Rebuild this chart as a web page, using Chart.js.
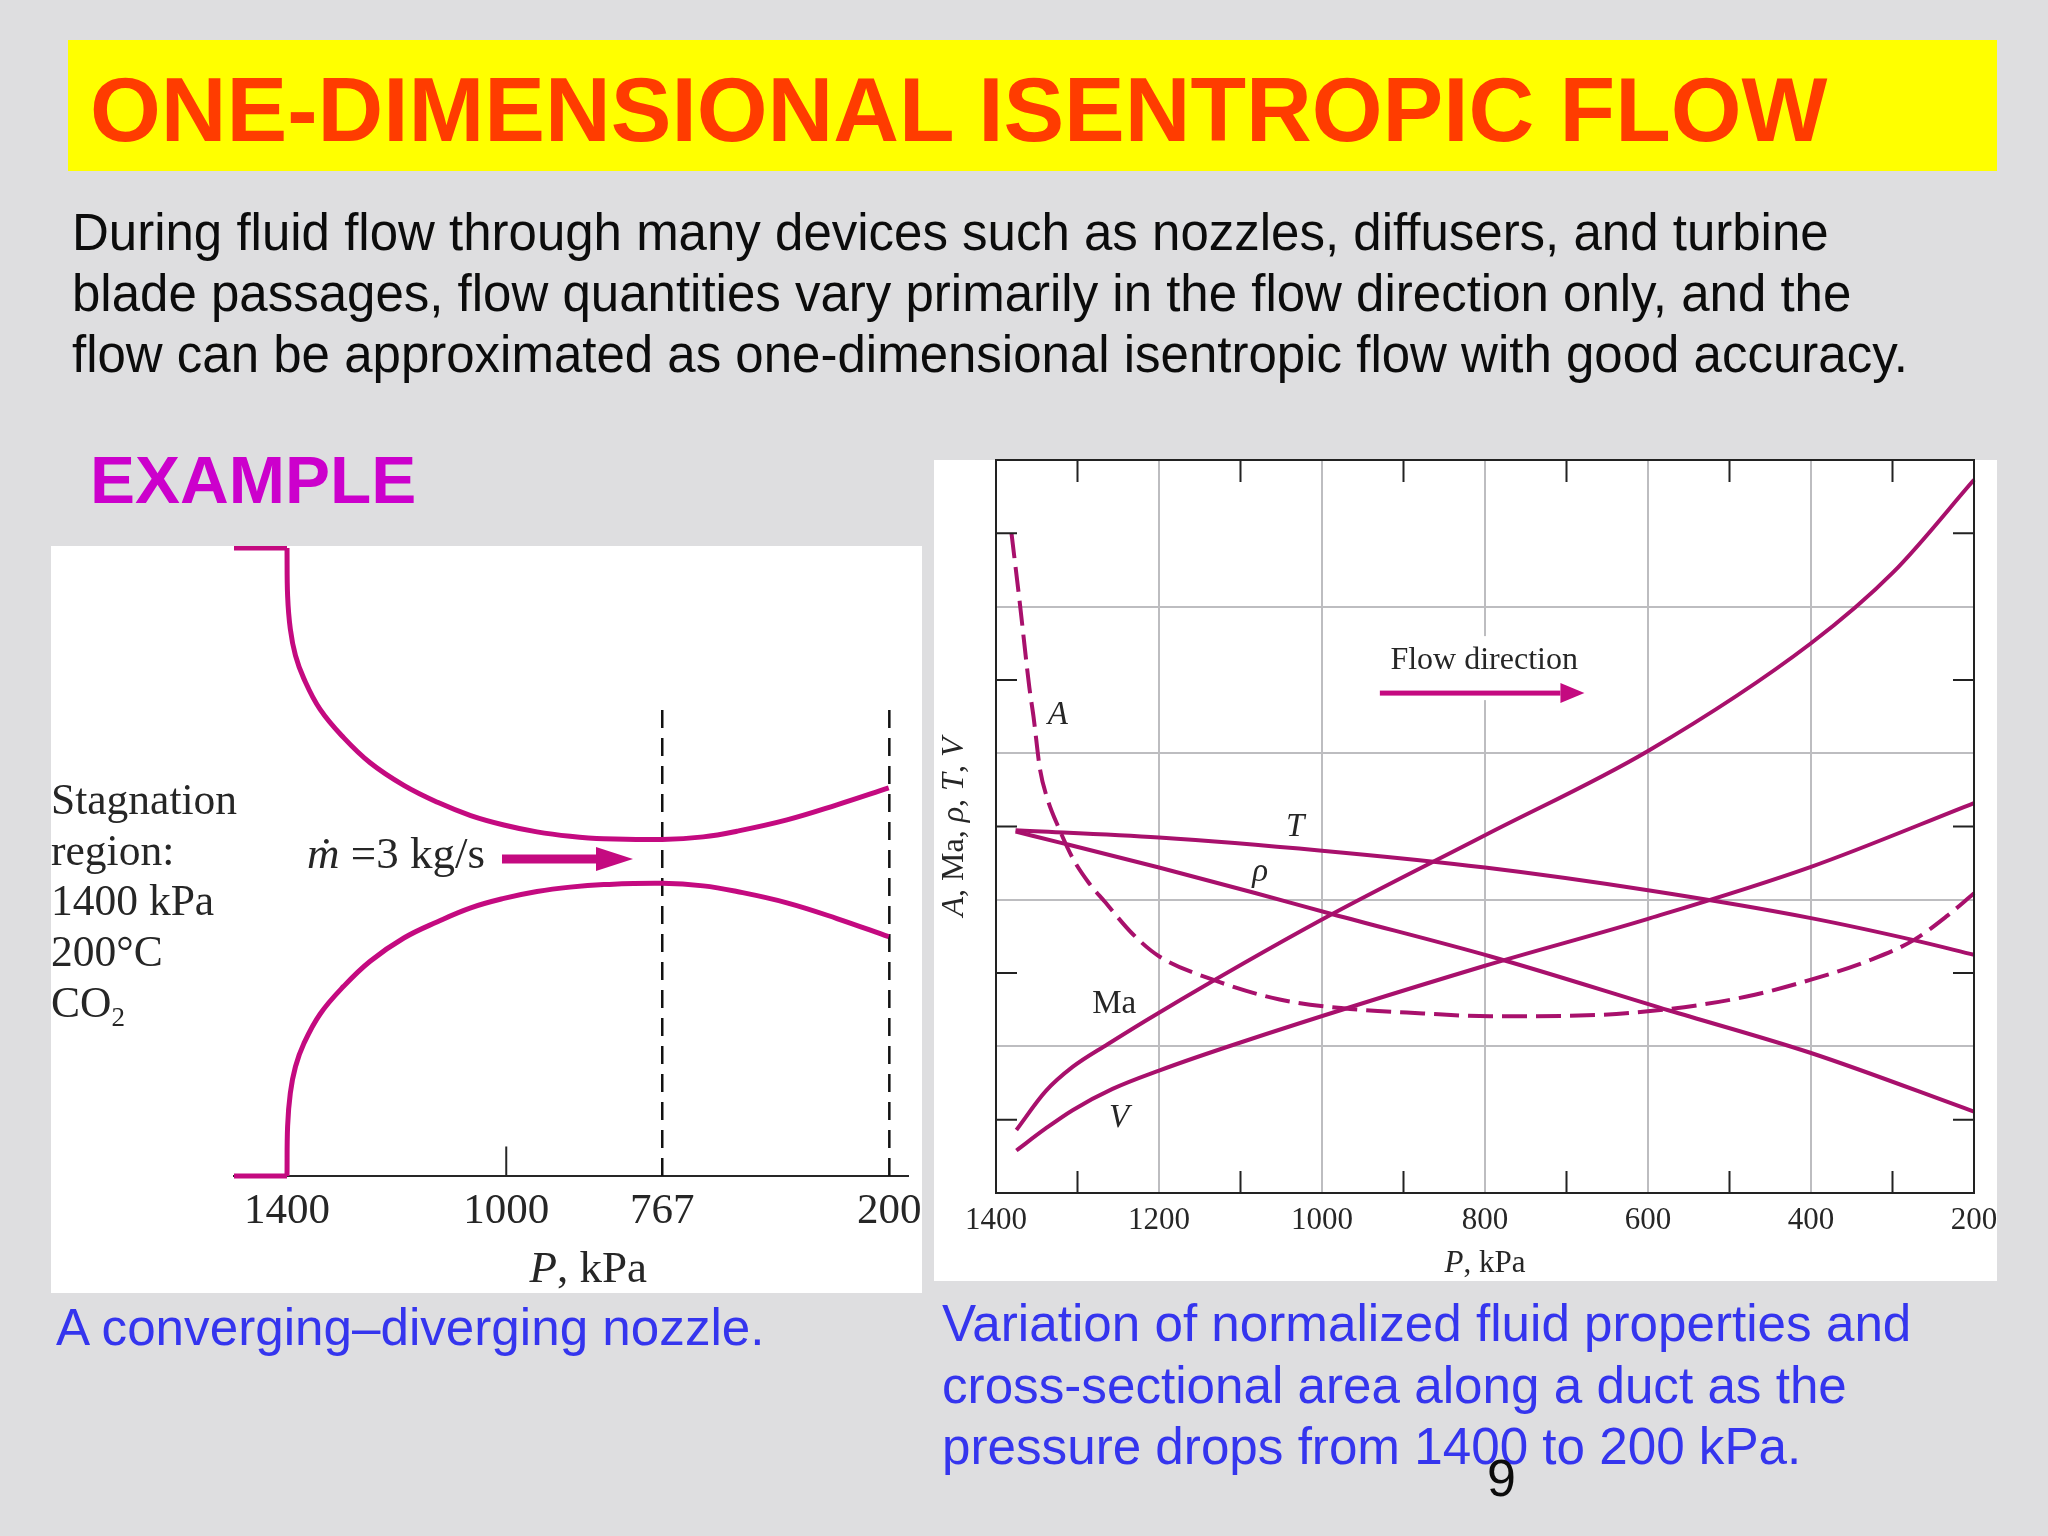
<!DOCTYPE html>
<html><head><meta charset="utf-8">
<script src="https://cdn.jsdelivr.net/npm/chart.js@4/dist/chart.umd.min.js"></script>
<style>
html,body{margin:0;padding:0;width:2048px;height:1536px;overflow:hidden;background:#dedee0}
.t{position:absolute;white-space:nowrap;font-family:"Liberation Sans",Arial,sans-serif;transform:translateY(-50%);line-height:1}
.p{position:absolute;background:#fff}
canvas{position:absolute;display:block}
</style></head><body>
<div class="p" style="left:68px;top:40px;width:1929px;height:131px;background:#ffff00"></div>
<div class="t" style="left:90px;top:109px;font-size:91px;font-weight:bold;color:#ff3c00">ONE-DIMENSIONAL ISENTROPIC FLOW</div>
<div class="t" style="left:72px;top:232px;font-size:51px;color:#0c0c0c">During fluid flow through many devices such as nozzles, diffusers, and turbine</div>
<div class="t" style="left:72px;top:293px;font-size:51px;color:#0c0c0c">blade passages, flow quantities vary primarily in the flow direction only, and the</div>
<div class="t" style="left:72px;top:354px;font-size:51px;color:#0c0c0c">flow can be approximated as one-dimensional isentropic flow with good accuracy.</div>
<div class="t" style="left:90px;top:480px;font-size:67.5px;font-weight:bold;color:#cc00cc">EXAMPLE</div>
<div class="p" style="left:51px;top:546px;width:871px;height:747px"></div>
<div class="p" style="left:934px;top:460px;width:1063px;height:821px"></div>
<canvas id="nozzle" width="871" height="747" style="left:51px;top:546px"></canvas>
<canvas id="props" width="1067" height="823" style="left:934px;top:458px"></canvas>
<div class="t" style="left:56px;top:1328px;font-size:51.2px;color:#3535ee">A converging–diverging nozzle.</div>
<div class="t" style="left:942px;top:1324px;font-size:51.2px;color:#3535ee">Variation of normalized fluid properties and</div>
<div class="t" style="left:942px;top:1386px;font-size:51.2px;color:#3535ee">cross-sectional area along a duct as the</div>
<div class="t" style="left:942px;top:1447px;font-size:51.2px;color:#3535ee">pressure drops from 1400 to 200 kPa.</div>
<div class="t" style="left:1487px;top:1478px;font-size:52px;color:#0c0c0c">9</div>
<script>
// Right chart: normalized properties vs pressure
const maP=[1375,1339,1306,1263,1200,1000,800,600,400,299,200];
const maY=[0.86,1.39,1.72,2.03,2.46,3.73,4.88,6.03,7.50,8.47,9.73];
const vP=[1375,1339,1306,1257,1200,1101,800,600,400,200];
const vY=[0.58,0.88,1.13,1.42,1.67,2.05,3.10,3.74,4.45,5.32];
const tP=[1376,1200,1000,800,600,400,274,200];
const tY=[4.95,4.85,4.67,4.44,4.13,3.75,3.45,3.25];
const rhoP=[1376,1314,1200,1081,986,794,574,400,200];
const rhoY=[4.93,4.76,4.44,4.09,3.80,3.23,2.49,1.91,1.11];
const aP=[1381,1371,1359,1354,1346,1337,1323,1306,1286,1267,1232,1200,1134,1052,974,876,794,685,574,479,400,327,274,233,200];
const aY=[9.00,8.07,6.89,6.50,5.78,5.38,4.98,4.57,4.23,3.98,3.53,3.23,2.91,2.64,2.52,2.45,2.41,2.42,2.51,2.68,2.91,3.18,3.45,3.78,4.09];
const pressureTicks=[1400,1200,1000,800,600,400,200];
// Left chart: nozzle profile against a station axis
const stationTicks=[0,36.4,62.3,100];
const stationLabels=['1400','1000','767','200'];
const wallX=[0,0.1,0.55,1.4,2.8,5.5,9.4,13.8,19.4,25,30.5,36,41.5,47,52.6,62.3,69.1,74.7,83,91.3,99.9];
const upperY=[100,92.4,87.1,82.9,79.2,74.3,69.8,65.8,62.2,59.5,57.4,55.9,54.8,54.1,53.7,53.6,54.0,54.9,56.7,59.1,61.8];
const lowerY=[0,7.9,13.2,17.4,21.1,25.8,30.2,34.2,37.9,40.5,42.7,44.2,45.3,46.0,46.4,46.6,46.2,45.3,43.5,41.0,38.1];

const SERIF='"Liberation Serif","Times New Roman",serif';
const LINE='#a8106c', BRIGHT='#c40a80', INK='#262626';
const zip=(xs,ys)=>xs.map((x,i)=>({x,y:ys[i]}));

function mixed(ctx,segs,cx,cy,size,rot){
  ctx.save();ctx.translate(cx,cy);if(rot)ctx.rotate(rot);
  ctx.textBaseline='middle';ctx.textAlign='left';ctx.fillStyle=INK;
  let w=0;for(const s of segs){ctx.font=(s[1]?'italic ':'')+size+'px '+SERIF;w+=ctx.measureText(s[0]).width;}
  let x=-w/2;for(const s of segs){ctx.font=(s[1]?'italic ':'')+size+'px '+SERIF;ctx.fillText(s[0],x,0);x+=ctx.measureText(s[0]).width;}
  ctx.restore();
}
function arrow(ctx,x0,x1,y,th,hw,hl,color){
  ctx.save();ctx.fillStyle=color;ctx.fillRect(x0,y-th/2,x1-x0-hl,th);
  ctx.beginPath();ctx.moveTo(x1,y);ctx.lineTo(x1-hl,y-hw);ctx.lineTo(x1-hl,y+hw);ctx.closePath();ctx.fill();ctx.restore();
}
const curve=(data,extra)=>Object.assign({data,borderColor:LINE,borderWidth:4,pointRadius:0,fill:false,clip:false,cubicInterpolationMode:'monotone'},extra||{});

new Chart(document.getElementById('props'),{
  type:'line',
  data:{datasets:[
    curve(zip(maP,maY)),curve(zip(vP,vY)),curve(zip(tP,tY)),curve(zip(rhoP,rhoY)),
    curve(zip(aP,aY),{borderDash:[25,9]})
  ]},
  options:{responsive:false,animation:false,events:[],
    layout:{padding:{left:62,right:27,top:2,bottom:0}},
    plugins:{legend:{display:false},tooltip:{enabled:false}},
    scales:{
      x:{type:'linear',reverse:true,min:200,max:1400,
        afterFit:s=>{s.height=88;s.paddingLeft=0;s.paddingRight=0;},
        afterBuildTicks:s=>{s.ticks=pressureTicks.map(v=>({value:v}));},
        border:{display:false},
        grid:{color:'#bdbdc0',lineWidth:2,drawTicks:false},
        ticks:{color:INK,padding:9,maxRotation:0,autoSkip:false,font:{family:SERIF,size:31},callback:v=>String(v)}},
      y:{type:'linear',min:0,max:10,
        afterFit:s=>{s.width=0;},
        border:{display:false},
        grid:{color:'#bdbdc0',lineWidth:2,drawTicks:false},
        ticks:{display:false,stepSize:2}}
    }},
  plugins:[{id:'frame',
    afterDraw(c){
      const ctx=c.ctx,{left,right,top,bottom}=c.chartArea,X=c.scales.x,Y=c.scales.y;
      ctx.save();ctx.strokeStyle='#222';ctx.lineWidth=2;
      ctx.strokeRect(left,top,right-left,bottom-top);
      ctx.beginPath();
      for(let p=300;p<1400;p+=200){const x=X.getPixelForValue(p);ctx.moveTo(x,top);ctx.lineTo(x,top+22);ctx.moveTo(x,bottom);ctx.lineTo(x,bottom-22);}
      for(let v=1;v<10;v+=2){const y=Y.getPixelForValue(v);ctx.moveTo(left,y);ctx.lineTo(left+21,y);ctx.moveTo(right,y);ctx.lineTo(right-21,y);}
      ctx.stroke();ctx.restore();
      const fx=X.getPixelForValue(801),fy=Y.getPixelForValue(7.27);
      ctx.save();ctx.fillStyle='#fff';ctx.fillRect(fx-100,fy-24,200,64);ctx.restore();
      mixed(ctx,[['Flow direction',0]],fx,fy,32);
      arrow(ctx,X.getPixelForValue(929),X.getPixelForValue(678),Y.getPixelForValue(6.82),5,10,24,BRIGHT);
      mixed(ctx,[['T',1]],X.getPixelForValue(1033),Y.getPixelForValue(4.99),33);
      mixed(ctx,[['ρ',1]],X.getPixelForValue(1076),Y.getPixelForValue(4.37),33);
      mixed(ctx,[['Ma',0]],X.getPixelForValue(1255),Y.getPixelForValue(2.57),33);
      mixed(ctx,[['V',1]],X.getPixelForValue(1249),Y.getPixelForValue(1.02),33);
      mixed(ctx,[['A',1]],X.getPixelForValue(1324),Y.getPixelForValue(6.52),33);
      mixed(ctx,[['A',1],[', Ma, ',0],['ρ',1],[', ',0],['T',1],[', ',0],['V',1]],21,369,32,-Math.PI/2);
      mixed(ctx,[['P',1],[', kPa',0]],(left+right)/2,806,31);
    }}]
});

new Chart(document.getElementById('nozzle'),{
  type:'line',
  data:{datasets:[
    {data:[{x:-8.8,y:100},{x:0,y:100}],borderColor:BRIGHT,borderWidth:5,pointRadius:0,clip:false},
    {data:[{x:-8.8,y:0},{x:0,y:0}],borderColor:BRIGHT,borderWidth:5,pointRadius:0,clip:false},
    {data:zip(wallX,upperY),borderColor:BRIGHT,borderWidth:5,pointRadius:0,clip:false,tension:0.4},
    {data:zip(wallX,lowerY),borderColor:BRIGHT,borderWidth:5,pointRadius:0,clip:false,tension:0.4},
    {data:[{x:62.3,y:0},{x:62.3,y:74.3}],borderColor:'#111',borderWidth:2.5,borderDash:[18,10],pointRadius:0},
    {data:[{x:100,y:0},{x:100,y:74.3}],borderColor:'#111',borderWidth:2.5,borderDash:[18,10],pointRadius:0},
    {data:[{x:36.4,y:0},{x:36.4,y:4.7}],borderColor:INK,borderWidth:2,pointRadius:0}
  ]},
  options:{responsive:false,animation:false,events:[],
    layout:{padding:{left:183,right:14,top:2,bottom:0}},
    plugins:{legend:{display:false},tooltip:{enabled:false}},
    scales:{
      x:{type:'linear',min:-8.8,max:103.1,
        afterFit:s=>{s.height=117;s.paddingLeft=0;s.paddingRight=0;},
        afterBuildTicks:s=>{s.ticks=stationTicks.map(v=>({value:v}));},
        border:{display:true,color:INK,width:2},
        grid:{display:false},
        ticks:{color:INK,padding:2,maxRotation:0,autoSkip:false,font:{family:SERIF,size:43},
          callback:(v,i)=>stationLabels[i]}},
      y:{type:'linear',min:0,max:100,display:false,afterFit:s=>{s.width=0;}}
    }},
  plugins:[{id:'notes',
    afterDraw(c){
      const ctx=c.ctx,X=c.scales.x;
      ctx.save();ctx.textAlign='left';ctx.textBaseline='middle';ctx.fillStyle=INK;ctx.font='43.5px '+SERIF;
      [['Stagnation',257],['region:',308],['1400 kPa',358],['200°C',409]].forEach(r=>ctx.fillText(r[0],0,r[1]));
      ctx.fillText('CO',0,460);
      const w=ctx.measureText('CO').width;
      ctx.font='27px '+SERIF;ctx.fillText('2',w,473);
      ctx.restore();
      mixed(ctx,[['ṁ',1],[' =3 kg/s',0]],345,310,45);
      arrow(ctx,451,582,313,9,12,37,BRIGHT);
      mixed(ctx,[['P',1],[', kPa',0]],X.getPixelForValue(50),724,45);
    }}]
});
</script>
</body></html>
